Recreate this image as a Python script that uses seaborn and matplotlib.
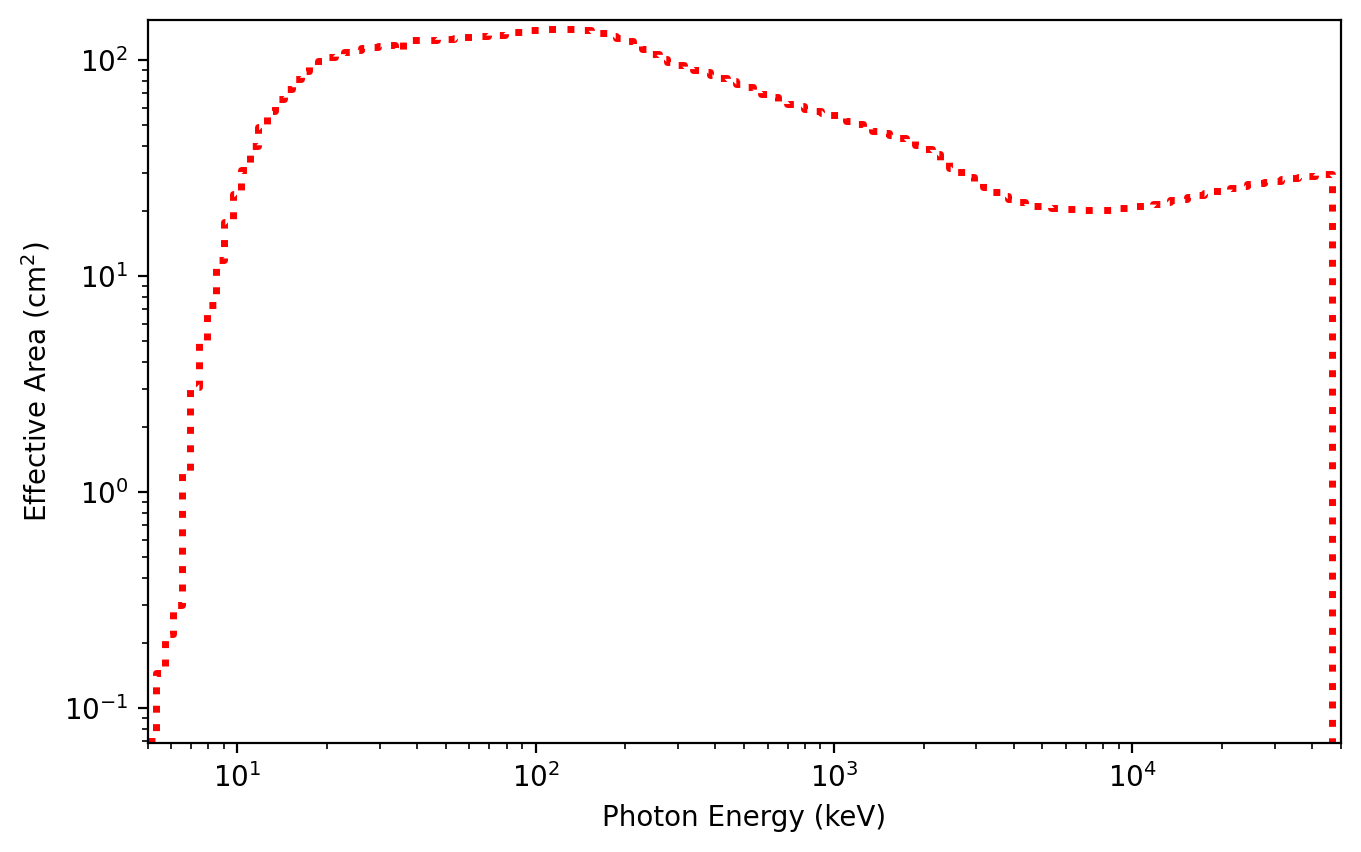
import numpy as np
import pandas as pd
import matplotlib
matplotlib.use("Agg")
import matplotlib.pyplot as plt
import seaborn as sns

# 140 log-spaced photon-energy bins from 5 keV to 50 MeV (lower edges used for the step)
e_min_kev = 5.0
e_max_kev = 50000.0
n_bins = 140

# Effective area per bin (cm^2)
effective_area = [
    0.07, 0.145, 0.22, 0.30, 1.25, 3.05, 5.0, 7.3, 11.9, 17.8,
    24.0, 31.0, 40.0, 49.0, 58.0, 66.0, 73.0, 82.0, 89.0, 94.0,
    99.0, 103.0, 107.0, 109.0, 111.0, 113.0, 115.0, 116.0, 117.0, 111.0,
    121.0, 124.0, 124.0, 124.0, 125.0, 125.5, 126.0, 127.0, 128.0, 129.0,
    130.0, 131.0, 133.0, 134.0, 136.0, 138.0, 139.0, 139.5, 139.0, 138.5,
    138.0, 137.0, 135.5, 133.0, 129.0, 126.0, 122.0, 118.0, 112.0, 106.0,
    101.0, 97.5, 94.5, 91.5, 89.5, 87.5, 85.0, 82.5, 80.0, 77.5,
    75.0, 72.0, 69.5, 67.0, 64.5, 62.5, 61.0, 59.5, 58.0, 56.8,
    55.5, 53.7, 52.0, 50.5, 48.5, 47.0, 45.8, 44.8, 43.7, 42.5,
    40.5, 38.5, 36.5, 33.5, 31.5, 30.3, 28.8, 27.0, 25.7, 24.5,
    23.5, 22.8, 22.0, 21.5, 21.1, 20.9, 20.7, 20.5, 20.3, 20.2,
    20.1, 20.1, 20.2, 20.4, 20.6, 20.8, 21.0, 21.3, 21.6, 22.0,
    22.4, 22.8, 23.2, 23.6, 24.1, 24.6, 25.1, 25.6, 26.0, 26.5,
    26.9, 27.3, 27.6, 28.0, 28.3, 28.7, 29.0, 29.3, 29.6, 0.0,
]

edges = np.logspace(np.log10(e_min_kev), np.log10(e_max_kev), n_bins + 1)
df = pd.DataFrame({"energy": edges[:-1], "area": effective_area})

fig = plt.figure(figsize=(6.805, 4.26), dpi=200)
ax = fig.add_subplot(111)
fig.subplots_adjust(left=0.1084, right=0.9851, top=0.9765, bottom=0.1276)

sns.lineplot(data=df, x="energy", y="area", ax=ax, estimator=None, sort=False,
             drawstyle="steps-post", color="red", linestyle=":", linewidth=2.5)
ax.set_xscale("log")
ax.set_yscale("log")
ax.set_xlim(e_min_kev, e_max_kev)
ax.set_ylim(0.0684, 153)
ax.set_xlabel("Photon Energy (keV)")
ax.set_ylabel("Effective Area (cm$^2$)")

fig.savefig("out.png", dpi=200)
